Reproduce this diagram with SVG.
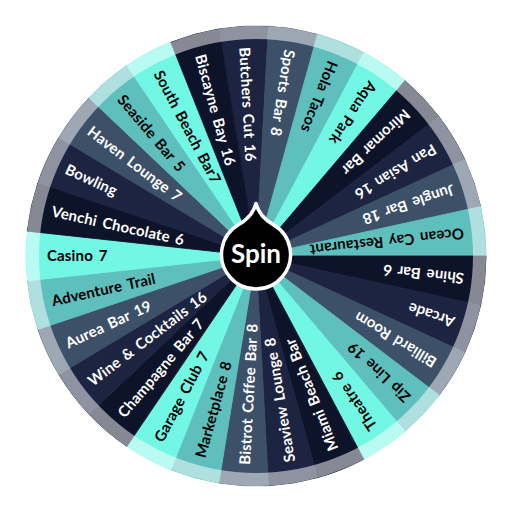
<svg xmlns="http://www.w3.org/2000/svg" xmlns:xlink="http://www.w3.org/1999/xlink" width="512" height="512" viewBox="0 0 512 512">
<style>
.dk{fill:#0d1329;stroke:#0d1329}
.nv{fill:#1d2442;stroke:#1d2442}
.sl{fill:#3c5068;stroke:#3c5068}
.tl{fill:#5ebfbd;stroke:#5ebfbd}
.cy{fill:#73f7e5;stroke:#73f7e5}
use{stroke-width:0.8}
text.lb{font-family:"Lato","Liberation Sans",sans-serif;font-weight:700;font-size:15px;word-spacing:2px;letter-spacing:0.15px}
.w{fill:#ffffff}
.b{fill:#000000}
</style>
<defs>
<path id="wedge" d="M0,0 L228.652,-24.867 A230,230 0 0,1 228.652,24.867 Z"/>
</defs>
<g id="wheel">
<g id="seg-butchers" transform="translate(256 256) rotate(-93.103)"><use href="#wedge" xlink:href="#wedge" class="nv"/><text class="lb w" transform="rotate(180)" x="-209" dy="0.36em">Butchers Cut 16</text></g>
<g id="seg-sports" transform="translate(256 256) rotate(-80.690)"><use href="#wedge" xlink:href="#wedge" class="sl"/><text class="lb w" transform="rotate(180)" x="-209" dy="0.36em">Sports Bar 8</text></g>
<g id="seg-hola" transform="translate(256 256) rotate(-68.276)"><use href="#wedge" xlink:href="#wedge" class="tl"/><text class="lb b" transform="rotate(180)" x="-209" dy="0.36em">Hola Tacos</text></g>
<g id="seg-aqua" transform="translate(256 256) rotate(-55.862)"><use href="#wedge" xlink:href="#wedge" class="cy"/><text class="lb b" transform="rotate(180)" x="-209" dy="0.36em">Aqua Park</text></g>
<g id="seg-miromar" transform="translate(256 256) rotate(-43.448)"><use href="#wedge" xlink:href="#wedge" class="dk"/><text class="lb w" transform="rotate(180)" x="-209" dy="0.36em">Miromar Bar</text></g>
<g id="seg-panasian" transform="translate(256 256) rotate(-31.034)"><use href="#wedge" xlink:href="#wedge" class="nv"/><text class="lb w" transform="rotate(180)" x="-209" dy="0.36em">Pan Asian 16</text></g>
<g id="seg-jungle" transform="translate(256 256) rotate(-18.621)"><use href="#wedge" xlink:href="#wedge" class="sl"/><text class="lb w" transform="rotate(180)" x="-209" dy="0.36em">Jungle Bar 18</text></g>
<g id="seg-oceancay" transform="translate(256 256) rotate(-6.207)"><use href="#wedge" xlink:href="#wedge" class="tl"/><text class="lb b" transform="rotate(180)" x="-209" dy="0.36em">Ocean Cay Restaurant</text></g>
<g id="seg-shine" transform="translate(256 256) rotate(6.207)"><use href="#wedge" xlink:href="#wedge" class="dk"/><text class="lb w" transform="rotate(180)" x="-209" dy="0.36em">Shine Bar 6</text></g>
<g id="seg-arcade" transform="translate(256 256) rotate(18.621)"><use href="#wedge" xlink:href="#wedge" class="nv"/><text class="lb w" transform="rotate(180)" x="-209" dy="0.36em">Arcade</text></g>
<g id="seg-billiard" transform="translate(256 256) rotate(31.034)"><use href="#wedge" xlink:href="#wedge" class="sl"/><text class="lb w" transform="rotate(180)" x="-209" dy="0.36em">Billiard Room</text></g>
<g id="seg-zipline" transform="translate(256 256) rotate(43.448)"><use href="#wedge" xlink:href="#wedge" class="tl"/><text class="lb b" transform="rotate(180)" x="-209" dy="0.36em">Zip Line 19</text></g>
<g id="seg-theatre" transform="translate(256 256) rotate(55.862)"><use href="#wedge" xlink:href="#wedge" class="cy"/><text class="lb b" transform="rotate(180)" x="-209" dy="0.36em">Theatre 6</text></g>
<g id="seg-miami" transform="translate(256 256) rotate(68.276)"><use href="#wedge" xlink:href="#wedge" class="dk"/><text class="lb w" transform="rotate(180)" x="-209" dy="0.36em">Miami Beach Bar</text></g>
<g id="seg-seaview" transform="translate(256 256) rotate(80.690)"><use href="#wedge" xlink:href="#wedge" class="nv"/><text class="lb w" transform="rotate(180)" x="-209" dy="0.36em">Seaview Lounge 8</text></g>
<g id="seg-bistrot" transform="translate(256 256) rotate(93.103)"><use href="#wedge" xlink:href="#wedge" class="sl"/><text class="lb w" transform="rotate(180)" x="-209" dy="0.36em">Bistrot Coffee Bar 8</text></g>
<g id="seg-marketplace" transform="translate(256 256) rotate(105.517)"><use href="#wedge" xlink:href="#wedge" class="tl"/><text class="lb b" transform="rotate(180)" x="-209" dy="0.36em">Marketplace 8</text></g>
<g id="seg-garage" transform="translate(256 256) rotate(117.931)"><use href="#wedge" xlink:href="#wedge" class="cy"/><text class="lb b" transform="rotate(180)" x="-209" dy="0.36em">Garage Club 7</text></g>
<g id="seg-champagne" transform="translate(256 256) rotate(130.345)"><use href="#wedge" xlink:href="#wedge" class="dk"/><text class="lb w" transform="rotate(180)" x="-209" dy="0.36em">Champagne Bar 7</text></g>
<g id="seg-wine" transform="translate(256 256) rotate(142.759)"><use href="#wedge" xlink:href="#wedge" class="nv"/><text class="lb w" transform="rotate(180)" x="-209" dy="0.36em">Wine &amp; Cocktails 16</text></g>
<g id="seg-aurea" transform="translate(256 256) rotate(155.172)"><use href="#wedge" xlink:href="#wedge" class="sl"/><text class="lb w" transform="rotate(180)" x="-209" dy="0.36em">Aurea Bar 19</text></g>
<g id="seg-adventure" transform="translate(256 256) rotate(167.586)"><use href="#wedge" xlink:href="#wedge" class="tl"/><text class="lb b" transform="rotate(180)" x="-209" dy="0.36em">Adventure Trail</text></g>
<g id="seg-casino" transform="translate(256 256) rotate(180)"><use href="#wedge" xlink:href="#wedge" class="cy"/><text class="lb b" transform="rotate(180)" x="-209" dy="0.36em">Casino 7</text></g>
<g id="seg-venchi" transform="translate(256 256) rotate(192.414)"><use href="#wedge" xlink:href="#wedge" class="dk"/><text class="lb w" transform="rotate(180)" x="-209" dy="0.36em">Venchi Chocolate 6</text></g>
<g id="seg-bowling" transform="translate(256 256) rotate(204.828)"><use href="#wedge" xlink:href="#wedge" class="nv"/><text class="lb w" transform="rotate(180)" x="-209" dy="0.36em">Bowling</text></g>
<g id="seg-haven" transform="translate(256 256) rotate(217.241)"><use href="#wedge" xlink:href="#wedge" class="sl"/><text class="lb w" transform="rotate(180)" x="-209" dy="0.36em">Haven Lounge 7</text></g>
<g id="seg-seaside" transform="translate(256 256) rotate(229.655)"><use href="#wedge" xlink:href="#wedge" class="tl"/><text class="lb b" transform="rotate(180)" x="-209" dy="0.36em">Seaside Bar 5</text></g>
<g id="seg-southbeach" transform="translate(256 256) rotate(242.069)"><use href="#wedge" xlink:href="#wedge" class="cy"/><text class="lb b" transform="rotate(180)" x="-209" dy="0.36em">South Beach Bar7</text></g>
<g id="seg-biscayne" transform="translate(256 256) rotate(254.483)"><use href="#wedge" xlink:href="#wedge" class="dk"/><text class="lb w" transform="rotate(180)" x="-209" dy="0.36em">Biscayne Bay 16</text></g>
</g>
<circle id="rim" cx="256" cy="256" r="223.5" fill="none" stroke="#ffffff" stroke-opacity="0.5" stroke-width="13"/>
<g id="spin-button">
<path d="M256,203.5 C258,211 264,219.5 273.25,224.6 A34.5,34.5 0 1,1 238.75,224.6 C248,219.5 254,211 256,203.5 Z" fill="#000000" stroke="#ffffff" stroke-width="3.5" stroke-linejoin="round"/>
<text x="256" y="263" text-anchor="middle" font-family="Lato, 'Liberation Sans', sans-serif" font-weight="700" font-size="26" fill="#ffffff">Spin</text>
</g>
</svg>
